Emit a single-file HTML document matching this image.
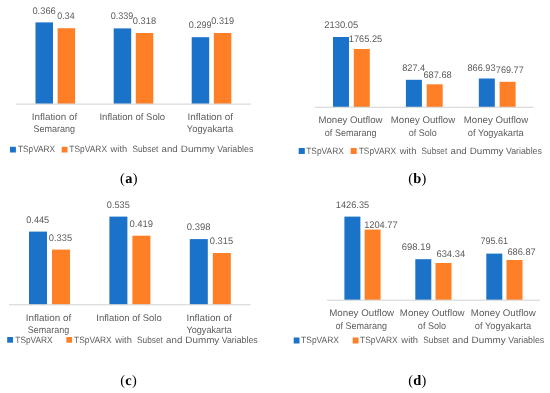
<!DOCTYPE html>
<html lang="en"><head><meta charset="utf-8"><title>Figure</title>
<style>
html,body{margin:0;padding:0;background:#fff;}
body{width:550px;height:393px;overflow:hidden;}
svg{display:block;}
text{font-family:"Liberation Sans",sans-serif;fill:#5C5C5C;text-rendering:geometricPrecision;}
text.cap{font-family:"Liberation Serif",serif;fill:#000;font-size:14.4px;}
</style></head><body>
<svg width="550" height="393" viewBox="0 0 550 393">
<rect x="0" y="0" width="550" height="393" fill="#fff"/>
<g id="chart-a">
<rect x="35.50" y="22.40" width="17.50" height="81.40" fill="#1A73C9"/>
<rect x="57.60" y="28.20" width="17.50" height="75.60" fill="#FF7F27"/>
<rect x="113.70" y="28.40" width="17.50" height="75.40" fill="#1A73C9"/>
<rect x="135.80" y="33.00" width="17.50" height="70.80" fill="#FF7F27"/>
<rect x="191.70" y="37.20" width="17.50" height="66.60" fill="#1A73C9"/>
<rect x="213.80" y="33.00" width="17.50" height="70.80" fill="#FF7F27"/>
<line x1="16" y1="104.1" x2="251" y2="104.1" stroke="#D2D2D2" stroke-width="1"/>
<text x="44.10" y="13.60" text-anchor="middle" font-size="9.5" textLength="23.3" lengthAdjust="spacingAndGlyphs">0.366</text>
<text x="66.00" y="19.20" text-anchor="middle" font-size="9.5" textLength="17.3" lengthAdjust="spacingAndGlyphs">0.34</text>
<text x="122.00" y="19.40" text-anchor="middle" font-size="9.5" textLength="22.7" lengthAdjust="spacingAndGlyphs">0.339</text>
<text x="144.50" y="24.20" text-anchor="middle" font-size="9.5" textLength="23.3" lengthAdjust="spacingAndGlyphs">0.318</text>
<text x="200.20" y="28.00" text-anchor="middle" font-size="9.5" textLength="22.7" lengthAdjust="spacingAndGlyphs">0.299</text>
<text x="222.70" y="23.60" text-anchor="middle" font-size="9.5" textLength="22.9" lengthAdjust="spacingAndGlyphs">0.319</text>
<text x="54.50" y="120.40" text-anchor="middle" font-size="9.6" textLength="45.3" lengthAdjust="spacingAndGlyphs">Inflation of</text>
<text x="54.30" y="132.40" text-anchor="middle" font-size="9.6" textLength="41.7" lengthAdjust="spacingAndGlyphs">Semarang</text>
<text x="132.30" y="120.40" text-anchor="middle" font-size="9.6" textLength="65.7" lengthAdjust="spacingAndGlyphs">Inflation of Solo</text>
<text x="210.30" y="120.40" text-anchor="middle" font-size="9.6" textLength="45.7" lengthAdjust="spacingAndGlyphs">Inflation of</text>
<text x="210.00" y="132.20" text-anchor="middle" font-size="9.6" textLength="46.3" lengthAdjust="spacingAndGlyphs">Yogyakarta</text>
<rect x="10.00" y="146.80" width="5.90" height="5.70" fill="#1A73C9"/>
<rect x="61.70" y="146.80" width="5.80" height="5.70" fill="#FF7F27"/>
<text x="18.00" y="152.20" text-anchor="start" font-size="9.2" textLength="37.1" lengthAdjust="spacingAndGlyphs">TSpVARX</text>
<text y="152.20" font-size="9.2"><tspan x="69.30" textLength="37.7" lengthAdjust="spacingAndGlyphs">TSpVARX</tspan> <tspan x="110.59" textLength="16.6" lengthAdjust="spacingAndGlyphs">with</tspan>&#160; <tspan x="132.44" textLength="25.9" lengthAdjust="spacingAndGlyphs">Subset</tspan> <tspan x="161.50" textLength="16.2" lengthAdjust="spacingAndGlyphs">and</tspan> <tspan x="180.74" textLength="34.1" lengthAdjust="spacingAndGlyphs">Dummy</tspan> <tspan x="217.22" textLength="36.1" lengthAdjust="spacingAndGlyphs">Variables</tspan></text>
<text class="cap" x="128.9" y="183.1" text-anchor="middle" letter-spacing="0.3">(<tspan font-weight="bold">a</tspan>)</text>
</g>
<g id="chart-b">
<rect x="333.00" y="37.00" width="16.00" height="69.95" fill="#1A73C9"/>
<rect x="353.80" y="49.00" width="16.00" height="57.95" fill="#FF7F27"/>
<rect x="405.90" y="79.80" width="16.00" height="27.15" fill="#1A73C9"/>
<rect x="426.70" y="84.30" width="16.00" height="22.65" fill="#FF7F27"/>
<rect x="478.80" y="78.50" width="16.00" height="28.45" fill="#1A73C9"/>
<rect x="499.60" y="81.80" width="16.00" height="25.15" fill="#FF7F27"/>
<line x1="315" y1="107.25" x2="533.6" y2="107.25" stroke="#D2D2D2" stroke-width="1"/>
<text x="341.20" y="28.00" text-anchor="middle" font-size="9.5" textLength="33.9" lengthAdjust="spacingAndGlyphs">2130.05</text>
<text x="365.50" y="41.60" text-anchor="middle" font-size="9.5" textLength="33.3" lengthAdjust="spacingAndGlyphs">1765.25</text>
<text x="413.70" y="71.00" text-anchor="middle" font-size="9.5" textLength="22.9" lengthAdjust="spacingAndGlyphs">827.4</text>
<text x="437.60" y="78.00" text-anchor="middle" font-size="9.5" textLength="28.3" lengthAdjust="spacingAndGlyphs">687.68</text>
<text x="481.50" y="71.00" text-anchor="middle" font-size="9.5" textLength="28.1" lengthAdjust="spacingAndGlyphs">866.93</text>
<text x="509.80" y="72.60" text-anchor="middle" font-size="9.5" textLength="27.9" lengthAdjust="spacingAndGlyphs">769.77</text>
<text x="350.50" y="123.00" text-anchor="middle" font-size="9.6" textLength="64.1" lengthAdjust="spacingAndGlyphs">Money Outflow</text>
<text x="350.70" y="135.60" text-anchor="middle" font-size="9.6" textLength="51.7" lengthAdjust="spacingAndGlyphs">of Semarang</text>
<text x="423.00" y="123.00" text-anchor="middle" font-size="9.6" textLength="64.3" lengthAdjust="spacingAndGlyphs">Money Outflow</text>
<text x="422.80" y="135.60" text-anchor="middle" font-size="9.6" textLength="27.9" lengthAdjust="spacingAndGlyphs">of Solo</text>
<text x="496.00" y="123.00" text-anchor="middle" font-size="9.6" textLength="64.3" lengthAdjust="spacingAndGlyphs">Money Outflow</text>
<text x="495.80" y="135.60" text-anchor="middle" font-size="9.6" textLength="55.9" lengthAdjust="spacingAndGlyphs">of Yogyakarta</text>
<rect x="298.70" y="148.00" width="6.10" height="6.00" fill="#1A73C9"/>
<rect x="350.70" y="148.00" width="6.00" height="6.00" fill="#FF7F27"/>
<text x="306.20" y="154.00" text-anchor="start" font-size="9.2" textLength="37.7" lengthAdjust="spacingAndGlyphs">TSpVARX</text>
<text y="154.00" font-size="9.2"><tspan x="358.70" textLength="37.5" lengthAdjust="spacingAndGlyphs">TSpVARX</tspan> <tspan x="399.81" textLength="16.6" lengthAdjust="spacingAndGlyphs">with</tspan>&#160; <tspan x="421.56" textLength="25.7" lengthAdjust="spacingAndGlyphs">Subset</tspan> <tspan x="450.50" textLength="16.2" lengthAdjust="spacingAndGlyphs">and</tspan> <tspan x="469.66" textLength="33.9" lengthAdjust="spacingAndGlyphs">Dummy</tspan> <tspan x="505.98" textLength="35.9" lengthAdjust="spacingAndGlyphs">Variables</tspan></text>
<text class="cap" x="417.4" y="183.4" text-anchor="middle" letter-spacing="0.3">(<tspan font-weight="bold">b</tspan>)</text>
</g>
<g id="chart-c">
<rect x="29.00" y="231.60" width="18.00" height="72.90" fill="#1A73C9"/>
<rect x="52.00" y="249.60" width="18.00" height="54.90" fill="#FF7F27"/>
<rect x="109.40" y="216.60" width="18.00" height="87.90" fill="#1A73C9"/>
<rect x="132.40" y="235.70" width="18.00" height="68.80" fill="#FF7F27"/>
<rect x="189.80" y="239.10" width="18.00" height="65.40" fill="#1A73C9"/>
<rect x="212.80" y="253.00" width="18.00" height="51.50" fill="#FF7F27"/>
<line x1="9" y1="304.8" x2="250.6" y2="304.8" stroke="#D2D2D2" stroke-width="1"/>
<text x="37.70" y="222.60" text-anchor="middle" font-size="9.5" textLength="22.9" lengthAdjust="spacingAndGlyphs">0.445</text>
<text x="60.50" y="240.60" text-anchor="middle" font-size="9.5" textLength="23.3" lengthAdjust="spacingAndGlyphs">0.335</text>
<text x="118.30" y="208.40" text-anchor="middle" font-size="9.5" textLength="22.9" lengthAdjust="spacingAndGlyphs">0.535</text>
<text x="141.30" y="226.60" text-anchor="middle" font-size="9.5" textLength="23.7" lengthAdjust="spacingAndGlyphs">0.419</text>
<text x="198.70" y="230.00" text-anchor="middle" font-size="9.5" textLength="23.7" lengthAdjust="spacingAndGlyphs">0.398</text>
<text x="221.50" y="244.00" text-anchor="middle" font-size="9.5" textLength="23.3" lengthAdjust="spacingAndGlyphs">0.315</text>
<text x="48.50" y="321.20" text-anchor="middle" font-size="9.6" textLength="45.3" lengthAdjust="spacingAndGlyphs">Inflation of</text>
<text x="48.50" y="333.00" text-anchor="middle" font-size="9.6" textLength="41.3" lengthAdjust="spacingAndGlyphs">Semarang</text>
<text x="129.00" y="321.20" text-anchor="middle" font-size="9.6" textLength="65.5" lengthAdjust="spacingAndGlyphs">Inflation of Solo</text>
<text x="209.10" y="321.20" text-anchor="middle" font-size="9.6" textLength="45.3" lengthAdjust="spacingAndGlyphs">Inflation of</text>
<text x="209.10" y="333.00" text-anchor="middle" font-size="9.6" textLength="45.3" lengthAdjust="spacingAndGlyphs">Yogyakarta</text>
<rect x="7.20" y="337.00" width="5.80" height="5.70" fill="#1A73C9"/>
<rect x="66.40" y="337.00" width="5.70" height="5.70" fill="#FF7F27"/>
<text x="15.30" y="343.00" text-anchor="start" font-size="9.2" textLength="37.3" lengthAdjust="spacingAndGlyphs">TSpVARX</text>
<text y="343.00" font-size="9.2"><tspan x="74.10" textLength="37.6" lengthAdjust="spacingAndGlyphs">TSpVARX</tspan> <tspan x="115.30" textLength="16.6" lengthAdjust="spacingAndGlyphs">with</tspan>&#160; <tspan x="137.10" textLength="25.8" lengthAdjust="spacingAndGlyphs">Subset</tspan> <tspan x="166.10" textLength="16.2" lengthAdjust="spacingAndGlyphs">and</tspan> <tspan x="185.30" textLength="34.0" lengthAdjust="spacingAndGlyphs">Dummy</tspan> <tspan x="221.70" textLength="36.0" lengthAdjust="spacingAndGlyphs">Variables</tspan></text>
<text class="cap" x="128.7" y="384.7" text-anchor="middle" letter-spacing="0.3">(<tspan font-weight="bold">c</tspan>)</text>
</g>
<g id="chart-d">
<rect x="344.40" y="216.60" width="16.00" height="83.30" fill="#1A73C9"/>
<rect x="364.60" y="229.60" width="16.00" height="70.30" fill="#FF7F27"/>
<rect x="415.30" y="259.20" width="16.00" height="40.70" fill="#1A73C9"/>
<rect x="435.50" y="263.00" width="16.00" height="36.90" fill="#FF7F27"/>
<rect x="486.30" y="253.60" width="16.00" height="46.30" fill="#1A73C9"/>
<rect x="506.50" y="260.00" width="16.00" height="39.90" fill="#FF7F27"/>
<line x1="327.2" y1="300.2" x2="540" y2="300.2" stroke="#D2D2D2" stroke-width="1"/>
<text x="352.50" y="208.40" text-anchor="middle" font-size="9.5" textLength="33.3" lengthAdjust="spacingAndGlyphs">1426.35</text>
<text x="380.90" y="228.00" text-anchor="middle" font-size="9.5" textLength="33.3" lengthAdjust="spacingAndGlyphs">1204.77</text>
<text x="416.30" y="250.00" text-anchor="middle" font-size="9.5" textLength="28.9" lengthAdjust="spacingAndGlyphs">698.19</text>
<text x="450.80" y="257.00" text-anchor="middle" font-size="9.5" textLength="28.7" lengthAdjust="spacingAndGlyphs">634.34</text>
<text x="494.30" y="244.40" text-anchor="middle" font-size="9.5" textLength="27.7" lengthAdjust="spacingAndGlyphs">795.61</text>
<text x="521.60" y="255.00" text-anchor="middle" font-size="9.5" textLength="28.3" lengthAdjust="spacingAndGlyphs">686.87</text>
<text x="361.70" y="316.00" text-anchor="middle" font-size="9.6" textLength="64.9" lengthAdjust="spacingAndGlyphs">Money Outflow</text>
<text x="361.30" y="329.00" text-anchor="middle" font-size="9.6" textLength="51.7" lengthAdjust="spacingAndGlyphs">of Semarang</text>
<text x="432.20" y="316.00" text-anchor="middle" font-size="9.6" textLength="64.7" lengthAdjust="spacingAndGlyphs">Money Outflow</text>
<text x="432.00" y="329.00" text-anchor="middle" font-size="9.6" textLength="28.3" lengthAdjust="spacingAndGlyphs">of Solo</text>
<text x="503.30" y="316.00" text-anchor="middle" font-size="9.6" textLength="64.9" lengthAdjust="spacingAndGlyphs">Money Outflow</text>
<text x="503.00" y="328.80" text-anchor="middle" font-size="9.6" textLength="56.3" lengthAdjust="spacingAndGlyphs">of Yogyakarta</text>
<rect x="293.70" y="337.50" width="5.80" height="6.00" fill="#1A73C9"/>
<rect x="352.70" y="337.50" width="5.80" height="6.00" fill="#FF7F27"/>
<text x="301.10" y="343.20" text-anchor="start" font-size="9.2" textLength="37.9" lengthAdjust="spacingAndGlyphs">TSpVARX</text>
<text y="343.20" font-size="9.2"><tspan x="360.00" textLength="37.7" lengthAdjust="spacingAndGlyphs">TSpVARX</tspan> <tspan x="401.36" textLength="16.7" lengthAdjust="spacingAndGlyphs">with</tspan>&#160; <tspan x="423.24" textLength="25.9" lengthAdjust="spacingAndGlyphs">Subset</tspan> <tspan x="452.35" textLength="16.3" lengthAdjust="spacingAndGlyphs">and</tspan> <tspan x="471.63" textLength="34.1" lengthAdjust="spacingAndGlyphs">Dummy</tspan> <tspan x="508.16" textLength="36.1" lengthAdjust="spacingAndGlyphs">Variables</tspan></text>
<text class="cap" x="417.4" y="384.7" text-anchor="middle" letter-spacing="0.3">(<tspan font-weight="bold">d</tspan>)</text>
</g>
</svg>
</body></html>
